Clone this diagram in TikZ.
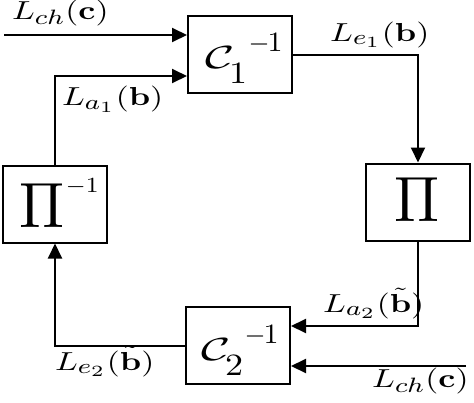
\documentclass[tikz,border=0pt]{standalone}
\usetikzlibrary{arrows.meta}
\DeclareMathSizes{10}{10}{8}{6}
\newcommand\lbltxt[1]{\scalebox{3.35}[2.6]{$#1$}}
\newcommand\cinv[1]{\rlap{\scalebox{5}[3.2]{$\mathcal{C}$}}\hspace{24pt}\rlap{\raisebox{-15pt}{\scalebox{3.6}[3.1]{#1}}}\hspace{19.5pt}\raisebox{17pt}{\scalebox{2.7}[2.8]{$-$}\kern-2pt\scalebox{3.0}[2.8]{1}}}
\begin{document}
\begin{tikzpicture}[x=1pt,y=-1pt,
  blk/.style={draw, line width=2pt, minimum width=104pt, minimum height=77pt, inner sep=0pt},
  txt/.style={inner sep=0pt},
  conn/.style={line width=2pt, -{Triangle[length=15pt,width=14pt]}},
  lbl/.style={inner sep=0pt, anchor=base west}]
\useasboundingbox (0,0) rectangle (474,402);
% blocks
\node[blk] (c1) at (240,54.5) {};
\node[blk] (pi) at (418,202) {};
\node[blk] (pinv) at (55,204) {};
\node[blk] (c2) at (238,345.5) {};
% block texts
\node[txt, anchor=base west] (c1t) at (205,68) {\cinv{1}};
\node[txt, anchor=base west] (c2t) at (201,360) {\cinv{2}};
\node[txt] (pit) at (416.5,199.5) {\scalebox{6}[6.4]{$\Pi$}};
\node[txt, anchor=base] (pinvt) at (42.5,227) {\scalebox{6}[6.4]{$\Pi$}\rlap{\kern1pt\raisebox{35pt}{\scalebox{3}[2.7]{$\scriptstyle -1$}}}};
% free ends
\coordinate (in1) at (4,35);
\coordinate (in2) at (466,366);
% connectors
\draw[conn] (in1) -- (in1 -| c1.west);
\draw[conn] (pinv.north) |- ([yshift=-21.5pt]c1.west);
\draw[conn] (c1.east) -| (pi.north);
\draw[conn] (pi.south) |- ([yshift=19.5pt]c2.east);
\draw[conn] (in2) -- (in2 -| c2.east);
\draw[conn] (c2.west) -| (pinv.south);
% labels
\node[lbl] (l1) at (12,19.5) {\lbltxt{L_{ch}(\mathbf{c})}};
\node[lbl] (l2) at (330,41) {\lbltxt{L_{e_1}(\mathbf{b})}};
\node[lbl] (l3) at (62,105.5) {\lbltxt{L_{a_1}(\mathbf{b})}};
\node[lbl] (l4) at (323,312) {\lbltxt{L_{a_2}(\tilde{\mathbf{b}})}};
\node[lbl] (l5) at (55,370) {\lbltxt{L_{e_2}(\tilde{\mathbf{b}})}};
\node[lbl] (l6) at (372,387) {\lbltxt{L_{ch}(\mathbf{c})}};
\end{tikzpicture}
\end{document}
